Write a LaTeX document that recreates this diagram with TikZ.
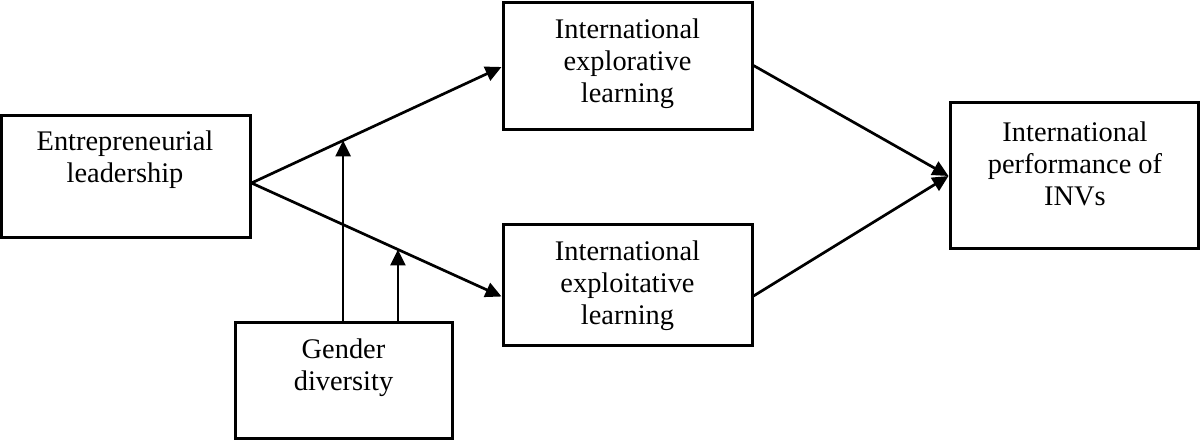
\documentclass[tikz,border=0pt]{standalone}
\usepackage{fontspec}
\setmainfont{Liberation Serif}
\usetikzlibrary{arrows.meta,calc}
\begin{document}
\begin{tikzpicture}[x=0.5pt,y=-0.5pt,
  box/.style={draw,line width=1.5pt,rectangle,inner sep=0pt},
  txt/.style={align=center,inner sep=0pt,font=\fontsize{14.2}{16}\selectfont},
  conn/.style={line width=1.35pt,-{Triangle[length=8pt,width=7.5pt]}}]
\useasboundingbox (0,0) rectangle (1200,440);
% boxes
\node[box,minimum width=249*0.5pt,minimum height=122*0.5pt] (el) at (125.5,176) {};
\node[box,minimum width=249*0.5pt,minimum height=127*0.5pt] (expl) at (627.5,65.5) {};
\node[box,minimum width=249*0.5pt,minimum height=121*0.5pt] (expt) at (627.5,284.5) {};
\node[box,minimum width=248*0.5pt,minimum height=146*0.5pt] (perf) at (1074,175) {};
\node[box,minimum width=217*0.5pt,minimum height=116*0.5pt] (gd) at (343.5,380) {};
% texts
\node[txt] (elt) at (125,160) {Entrepreneurial\\leadership};
\node[txt] (explt) at (627.5,64) {International\\explorative\\learning};
\node[txt] (exptt) at (627.5,286) {International\\exploitative\\learning};
\node[txt] (perft) at (1075,164) {International\\performance of\\INVs};
\node[txt] (gdt) at (343.5,368) {Gender\\diversity};
% connection points
\coordinate (elout) at ([yshift=-3.5pt]el.east);
\coordinate (explin) at ([yshift=-0.75pt]expl.west);
\coordinate (exptin) at ([yshift=-6pt]expt.west);
\coordinate (exptout) at ([yshift=-5.75pt]expt.east);
\coordinate (perfin) at ([yshift=-0.5pt]perf.west);
% main paths
\draw[conn] (elout) -- (explin) coordinate[pos=0.3665] (m1);
\draw[conn] (elout) -- (exptin) coordinate[pos=0.5857] (m2);
\draw[conn] (expl.east) -- (perfin);
\draw[conn] (exptout) -- (perfin);
% moderator arrows
\draw[conn] (m1 |- gd.north) -- (m1);
\draw[conn] (m2 |- gd.north) -- (m2);
\end{tikzpicture}
\end{document}
